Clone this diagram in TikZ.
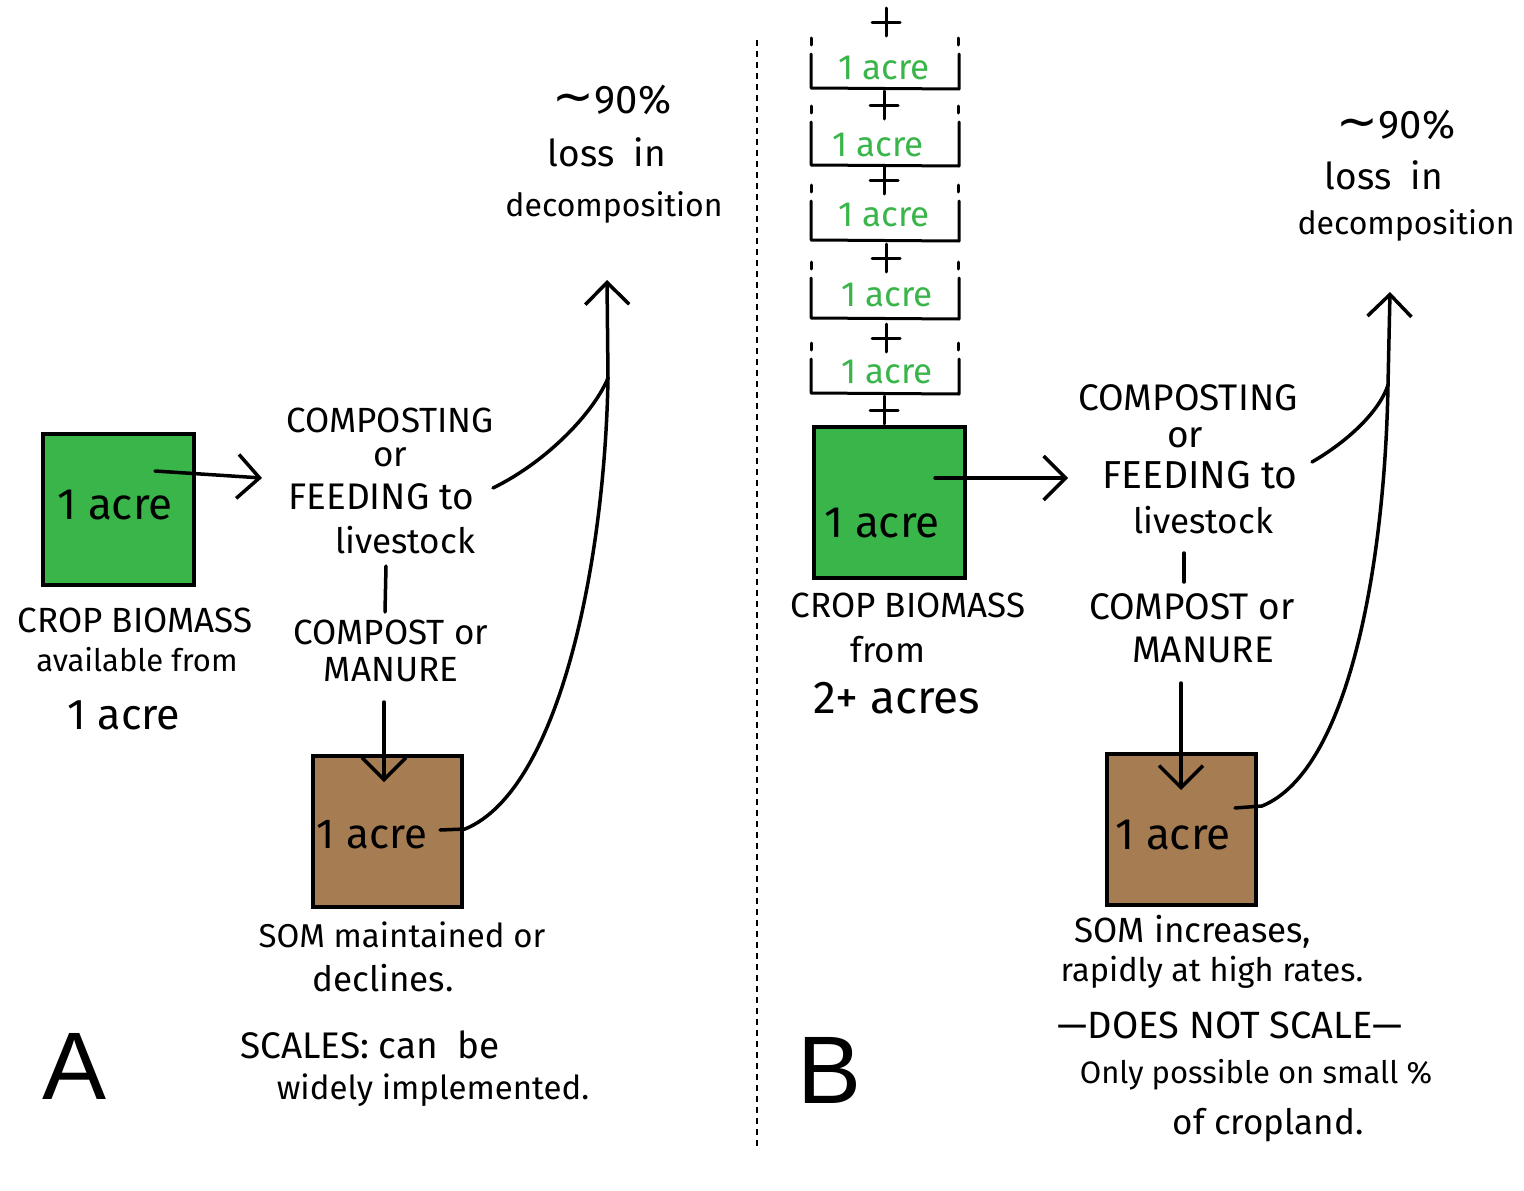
\documentclass[tikz,border=0pt]{standalone}
\usepackage{fontspec}
\setmainfont{Fira Sans}
\newfontfamily\labelfont{Liberation Sans}
\newfontfamily\symfont{DejaVu Sans}
\usetikzlibrary{arrows.meta}
\definecolor{grn}{RGB}{58,181,74}
\definecolor{brn}{RGB}{166,124,82}
\newcommand\bigtilde{{\symfont\fontsize{50}{50}\selectfont ∼}}
\tikzset{
  hw/.style={font=\fontsize{31}{36}\selectfont, inner sep=0pt},
  hwc/.style={font=\fontsize{35}{40}\selectfont, inner sep=0pt},
  hwb/.style={font=\fontsize{37}{42}\selectfont, inner sep=0pt},
  small x/.style={text height=16pt, text depth=0pt},
  inbox/.style={font=\fontsize{44}{50}\selectfont, inner sep=0pt},
  stk/.style={font=\fontsize{35}{40}\selectfont, text=grn, inner sep=0pt},
  plant/.style={draw=black, line width=4pt, fill=grn, minimum width=151pt, minimum height=151pt, inner sep=0pt},
  soil/.style={draw=black, line width=4pt, fill=brn, minimum width=149pt, minimum height=151pt, inner sep=0pt},
  conn/.style={line width=3.5pt, line cap=round, line join=round},
  arr/.style={conn, -{Straight Barb[length=22pt,width=44pt]}},
  panel/.style={font=\labelfont\fontsize{96}{100}\selectfont, inner sep=0pt},
}
\begin{document}
\begin{tikzpicture}[x=1pt,y=-1pt]
\useasboundingbox (0,0) rectangle (1524,1191);
\fill[white] (0,0) rectangle (1524,1191);

% divider
\draw[line width=2pt, dash pattern=on 6pt off 5pt] (757,40) -- (757,1150);

% ================= Panel A =================
\node[plant] (gA) at (118.5,509.5) {};
\node[inbox] (gAt) at (115,505) {1 acre};
\node[hwc] (a1) at (135,620) {CROP BIOMASS};
\node[hw] (a2) at (137,660) {available from};
\node[hw, font=\fontsize{43}{48}\selectfont] (a3) at (124,715) {1 acre};

\node[hwc] (aC1) at (390,420) {COMPOSTING};
\node[hwc, small x] (aC2) at (390,458) {or};
\node[hwb] (aC3) at (381,497) {FEEDING to};
\node[hwc] (aC4) at (405,540) {livestock};
\node[hwc] (aM1) at (391,632) {COMPOST or};
\node[hwc] (aM2) at (391,670) {MANURE};

\node[soil] (bA) at (387.5,831.5) {};
\node[inbox, font=\fontsize{42}{48}\selectfont] (bAt) at (372,835) {1 acre};

\node[hwc, font=\fontsize{33}{38}\selectfont] (aS1) at (402,935) {SOM maintained or};
\node[hwc] (aS2) at (383,978) {declines.};
\node[hwb] (aS3) at (370,1045) {SCALES: can~ be};
\node[hw, font=\fontsize{33}{38}\selectfont] (aS4) at (433,1090) {widely implemented.};

\node[hwb, font=\fontsize{40}{44}\selectfont] (aL1) at (612,100) {\bigtilde 90\%};
\node[hwb] (aL2) at (607,152) {loss~ in};
\node[hw, font=\fontsize{32}{36}\selectfont] (aL3) at (614,207) {decomposition};

\node[panel] (A) at (75,1066) {A};

\coordinate (aG1) at (155,471);
\coordinate (aG2) at (262,478);
\draw[arr] (aG1) -- (aG2);
\coordinate (aV1) at (386,566);
\coordinate (aV2) at (385,612);
\draw[conn] (aV1) -- (aV2);
\coordinate (aD1) at (384,702);
\coordinate (aD2) at (384,782);
\draw[arr] (aD1) -- (aD2);
\coordinate (aU0) at (440,830);
\coordinate (aU1) at (465,829);
\coordinate (aJ) at (608,378);
\coordinate (aT) at (607,280);
\coordinate (aF) at (493,488);
\draw[conn] (aU0) -- (aU1) .. controls (560,790) and (605,560) .. (aJ);
\draw[arr] (aJ) -- (aT);
\draw[conn] (aF) .. controls (550,460) and (595,410) .. (aJ);

% ================= Panel B =================
% stacked acres
\foreach \t/\b/\ty/\tx in {38/88/68/884, 106/165/145/878, 185/240/215/884, 262/318/295/887, 343/393/372/887}{
  \draw[conn, line width=3pt] (811,\t) -- (811,\t+7);
  \draw[conn, line width=3pt] (958,\t) -- (958,\t+7);
  \draw[conn, line width=3pt] (811,\t+16) -- (811,\b) -- (959,\b+1) -- (959,\t+16);
  \node[stk] at (\tx,\ty) {1 acre};
}
\foreach \px/\py in {886/22, 884/105, 884/180, 886/258, 886/338, 884/410}{
  \draw[conn, line width=3pt] (\px-14,\py) -- (\px+14,\py);
  \draw[conn, line width=3pt] (\px,\py-14) -- (\px,\py+14);
}

\node[plant] (gB) at (889.5,502.5) {};
\node[inbox] (gBt) at (882,523) {1 acre};
\node[hwc] (b1) at (908,605) {CROP BIOMASS};
\node[hwc] (b2) at (888,650) {from};
\node[hw, font=\fontsize{46}{50}\selectfont] (b3) at (897,698) {2+ acres};

\node[hwb] (bC1) at (1188,398) {COMPOSTING};
\node[hwb, small x] (bC2) at (1185,439) {or};
\node[hwb, font=\fontsize{39}{44}\selectfont] (bC3) at (1200,475) {FEEDING to};
\node[hwc] (bC4) at (1203,520) {livestock};
\node[hwb] (bM1) at (1192,607) {COMPOST or};
\node[hwb] (bM2) at (1203,650) {MANURE};

\node[soil] (bB) at (1181.5,829) {};
\node[inbox] (bBt) at (1173,835) {1 acre};

\node[hwc] (bS1) at (1193,932) {SOM increases,};
\node[hw, font=\fontsize{32.5}{38}\selectfont] (bS2) at (1212,972) {rapidly at high rates.};
\node[hwb, font=\fontsize{38}{42}\selectfont] (bS3) at (1230,1025) {—DOES NOT SCALE—};
\node[hw] (bS4) at (1256,1075) {Only possible on small \%};
\node[hwc] (bS5) at (1268,1125) {of cropland.};

\node[hwb, font=\fontsize{40}{44}\selectfont] (bL1) at (1396,125) {\bigtilde 90\%};
\node[hwb] (bL2) at (1384,175) {loss~ in};
\node[hw, font=\fontsize{32}{36}\selectfont] (bL3) at (1406,225) {decomposition};

\node[panel] (B) at (830,1070) {B};

\coordinate (bG1) at (935,478);
\coordinate (bG2) at (1068,478);
\draw[arr] (bG1) -- (bG2);
\coordinate (bV1) at (1184,553);
\coordinate (bV2) at (1184,582);
\draw[conn] (bV1) -- (bV2);
\coordinate (bD1) at (1181,683);
\coordinate (bD2) at (1181,790);
\draw[arr] (bD1) -- (bD2);
\coordinate (bU0) at (1235,808);
\coordinate (bU1) at (1262,806);
\coordinate (bJ) at (1388,385);
\coordinate (bT) at (1390,292);
\coordinate (bF) at (1312,462);
\draw[conn] (bU0) -- (bU1) .. controls (1350,770) and (1385,560) .. (bJ);
\draw[arr] (bJ) -- (bT);
\draw[conn] (bF) .. controls (1350,440) and (1380,410) .. (bJ);
\end{tikzpicture}
\end{document}
